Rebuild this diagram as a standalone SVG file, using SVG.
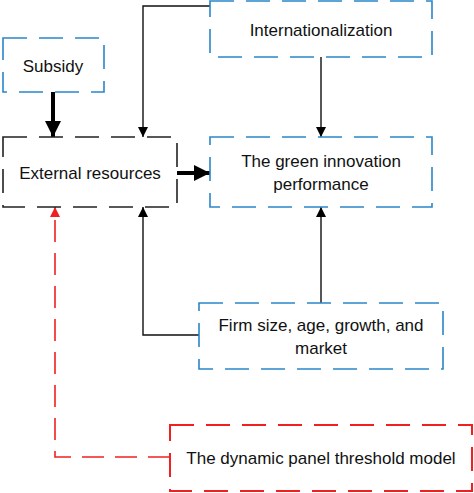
<svg xmlns="http://www.w3.org/2000/svg" width="474" height="493" viewBox="0 0 474 493">
<style>
.box{fill:none;stroke-width:1.6;stroke-dasharray:24 12}
.blue{stroke:#2a86c9}
.blk{stroke:#222}
.red{stroke:#f02020}
.t{font-family:"Liberation Sans",Arial,sans-serif;font-size:17px;fill:#111;text-anchor:middle}
.thin{fill:none;stroke:#111;stroke-width:1.4}
.thick{fill:none;stroke:#000;stroke-width:4}
.rdash{fill:none;stroke:#f02020;stroke-width:1.6;stroke-dasharray:22 11}
</style>
<defs>
<marker id="ah" markerUnits="userSpaceOnUse" markerWidth="10" markerHeight="10" viewBox="0 0 10 10" refX="10" refY="5" orient="auto"><path d="M0,0 L10,5 L0,10 z" fill="#000"/></marker>
<marker id="ahr" markerUnits="userSpaceOnUse" markerWidth="10" markerHeight="10" viewBox="0 0 10 10" refX="10" refY="5" orient="auto"><path d="M0,0 L10,5 L0,10 z" fill="#f02020"/></marker>
<marker id="big" markerUnits="userSpaceOnUse" markerWidth="16" markerHeight="16" viewBox="0 0 16 16" refX="16" refY="8" orient="auto"><path d="M0,0 L16,8 L0,16 z" fill="#000"/></marker>
</defs>
<g id="connectors">
<path class="thick" d="M53,92 V137" marker-end="url(#big)"/>
<path class="thick" d="M177,173 H210" marker-end="url(#big)"/>
<path class="thin" d="M210,6 H143 V137" marker-end="url(#ah)"/>
<path class="thin" d="M321,57 V137" marker-end="url(#ah)"/>
<path class="thin" d="M321,303 V207" marker-end="url(#ah)"/>
<path class="thin" d="M199,335 H143 V207" marker-end="url(#ah)"/>
<path class="rdash" d="M170,457 H55 V207" marker-end="url(#ahr)"/>
</g>
<g id="subsidy">
<rect class="box blue" x="3" y="38" width="101" height="54"/>
<text class="t" x="53" y="72">Subsidy</text>
</g>
<g id="external">
<rect class="box blk" x="3" y="137" width="174" height="70"/>
<text class="t" x="90" y="179">External resources</text>
</g>
<g id="internationalization">
<rect class="box blue" x="210" y="1" width="222" height="56"/>
<text class="t" x="321" y="36">Internationalization</text>
</g>
<g id="green">
<rect class="box blue" x="210" y="137" width="222" height="70"/>
<text class="t" x="321" y="167">The green innovation</text>
<text class="t" x="321" y="190">performance</text>
</g>
<g id="firm">
<rect class="box blue" x="199" y="303" width="244" height="66"/>
<text class="t" x="321" y="331">Firm size, age, growth, and</text>
<text class="t" x="321" y="354">market</text>
</g>
<g id="dynamic">
<rect class="box red" x="170" y="425" width="302" height="66" style="stroke-width:2"/>
<text class="t" x="321" y="464">The dynamic panel threshold model</text>
</g>
</svg>
